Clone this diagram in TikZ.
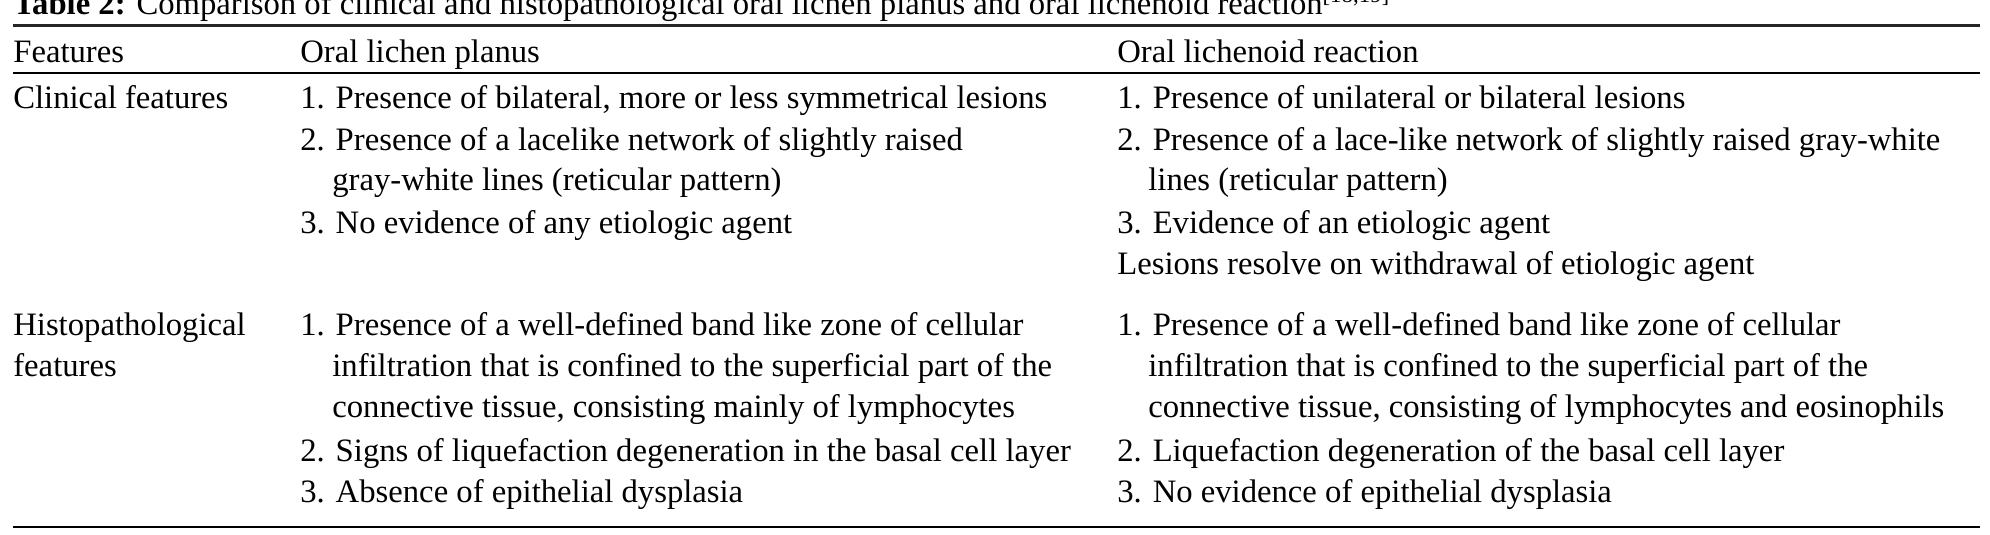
\documentclass[tikz,border=0pt]{standalone}
\usepackage{fontspec}
\setmainfont{Liberation Serif}
\tikzset{
  cell/.style={anchor=base west, inner sep=0pt, font=\fontsize{18.6}{22}\selectfont},
  rulerow/.style={line width=1.6pt, black!85}
}
\begin{document}
\begin{tikzpicture}[x=0.02cm, y=-0.02cm]
        \useasboundingbox (0,0) rectangle (1990,534);
        % Title
        \node[cell] (title) at (13,14) {\textbf{Table 2:} Comparison of clinical and histopathological oral lichen planus and oral lichenoid reaction\textsuperscript{[18,19]}};
        \coordinate (r1w) at (13,25.5);  \coordinate (r1e) at (1980,25.5);
        \draw[rulerow] (r1w) -- (r1e);

        % Header row
        \node[cell] (hfeat) at (13,62) {Features};
        \node[cell] (holp)  at (300,62) {Oral lichen planus};
        \node[cell] (holr)  at (1117,62) {Oral lichenoid reaction};
        \coordinate (r2w) at (13,73);  \coordinate (r2e) at (1980,73);
        \draw[line width=1pt] (r2w) -- (r2e);

        % Clinical features
        \node[cell] (clin)  at (13,108) {Clinical features};
        \node[cell] (clpa)  at (300,108) {1. Presence of bilateral, more or less symmetrical lesions};
        \node[cell] (clpb)  at (300,150) {2. Presence of a lacelike network of slightly raised};
        \node[cell] (clpc)  at (332,190) {gray-white lines (reticular pattern)};
        \node[cell] (clpd)  at (300,233) {3. No evidence of any etiologic agent};
        \node[cell] (clra)  at (1117,108) {1. Presence of unilateral or bilateral lesions};
        \node[cell] (clrb)  at (1117,150) {2. Presence of a lace-like network of slightly raised gray-white};
        \node[cell] (clrc)  at (1148,190) {lines (reticular pattern)};
        \node[cell] (clrd)  at (1117,233) {3. Evidence of an etiologic agent};
        \node[cell] (clre)  at (1117,274) {Lesions resolve on withdrawal of etiologic agent};

        % Histopathological features
        \node[cell] (hist)  at (13,335) {Histopathological};
        \node[cell] (histb) at (13,376) {features};
        \node[cell] (hspa)  at (300,335) {1. Presence of a well-defined band like zone of cellular};
        \node[cell] (hspb)  at (332,376) {infiltration that is confined to the superficial part of the};
        \node[cell] (hspc)  at (332,417) {connective tissue, consisting mainly of lymphocytes};
        \node[cell] (hspd)  at (300,461) {2. Signs of liquefaction degeneration in the basal cell layer};
        \node[cell] (hspe)  at (300,502) {3. Absence of epithelial dysplasia};
        \node[cell] (hsra)  at (1117,335) {1. Presence of a well-defined band like zone of cellular};
        \node[cell] (hsrb)  at (1148,376) {infiltration that is confined to the superficial part of the};
        \node[cell] (hsrc)  at (1148,417) {connective tissue, consisting of lymphocytes and eosinophils};
        \node[cell] (hsrd)  at (1117,461) {2. Liquefaction degeneration of the basal cell layer};
        \node[cell] (hsre)  at (1117,502) {3. No evidence of epithelial dysplasia};
        \coordinate (r3w) at (13,527);  \coordinate (r3e) at (1980,527);
        \draw[line width=1pt] (r3w) -- (r3e);
    \end{tikzpicture}
\end{document}
